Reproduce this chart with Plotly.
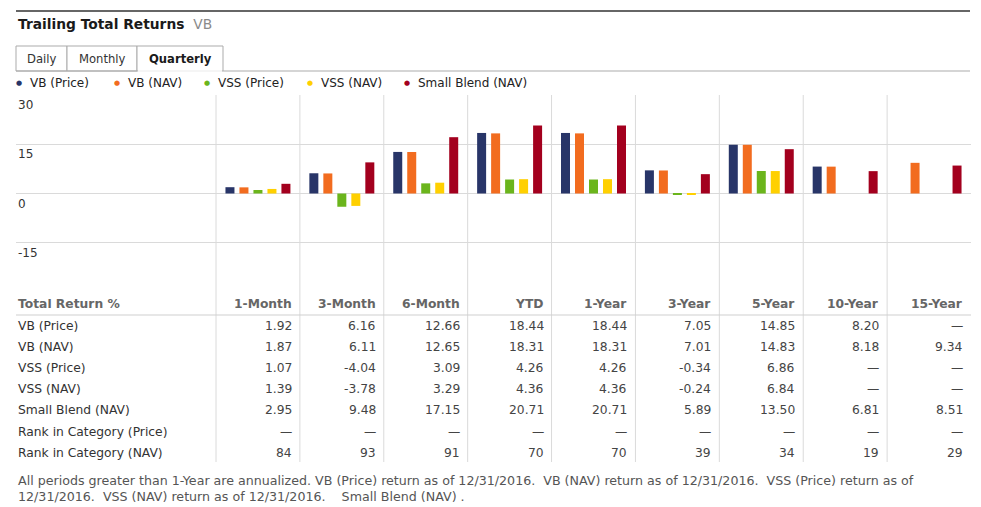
import plotly.graph_objects as go

# ---------------- data ----------------
periods = ["1-Month", "3-Month", "6-Month", "YTD", "1-Year", "3-Year", "5-Year", "10-Year", "15-Year"]
series_names = ["VB (Price)", "VB (NAV)", "VSS (Price)", "VSS (NAV)", "Small Blend (NAV)"]
vb_price = [1.92, 6.16, 12.66, 18.44, 18.44, 7.05, 14.85, 8.20, None]
vb_nav = [1.87, 6.11, 12.65, 18.31, 18.31, 7.01, 14.83, 8.18, 9.34]
vss_price = [1.07, -4.04, 3.09, 4.26, 4.26, -0.34, 6.86, None, None]
vss_nav = [1.39, -3.78, 3.29, 4.36, 4.36, -0.24, 6.84, None, None]
small_blend = [2.95, 9.48, 17.15, 20.71, 20.71, 5.89, 13.50, 6.81, 8.51]
rank_price = [None] * 9
rank_nav = [84, 93, 91, 70, 70, 39, 34, 19, 29]
y_ticks = [-30, -15, 0, 15, 30]
y_tick_text = ["", "-15", "0", "15", "30"]
tabs = ["Daily", "Monthly", "Quarterly"]
footnote = ("All periods greater than 1-Year are annualized. VB (Price) return as of 12/31/2016.\u00a0 "
            "VB (NAV) return as of 12/31/2016.\u00a0 VSS (Price) return as of<br>12/31/2016.\u00a0 "
            "VSS (NAV) return as of 12/31/2016.\u00a0\u00a0\u00a0 Small Blend (NAV) .")

# ---------------- styling ----------------
W, H = 981, 507
colors = ["#283568", "#F26C1F", "#6BB51C", "#FFD000", "#A3001E"]
FONT = "DejaVu Sans"
GRID = "#DADADA"
TSIZE = 12.3

def px_x(p):
    return p / W

def px_y(p):
    return 1 - p / H

left_px, col0_px, right_px = 16, 216, 971
top_px, bottom_px = 95, 292
col_w = (right_px - col0_px) / len(periods)
x_min = -0.5 - (col0_px - left_px) / col_w
x_max = len(periods) - 0.5

series = [vb_price, vb_nav, vss_price, vss_nav, small_blend]
xs = list(range(len(periods)))

fig = go.Figure()
for name, vals, c in zip(series_names, series, colors):
    fig.add_trace(go.Bar(x=xs, y=vals, name=name, marker=dict(color=c, line=dict(width=0)),
                         showlegend=False, hoverinfo="skip"))

annotations = []
shapes = []

# title
annotations.append(dict(xref="paper", yref="paper", x=px_x(16), y=px_y(24), xanchor="left", yanchor="middle",
                        text="<b>Trailing Total Returns</b>  <span style='color:#8a8a8a;font-weight:normal'>VB</span>",
                        showarrow=False, font=dict(family=FONT, size=13.8, color="#1a1a1a")))
shapes.append(dict(type="line", xref="paper", yref="paper", x0=px_x(16), x1=px_x(970), y0=px_y(11), y1=px_y(11),
                   line=dict(color="#666666", width=2)))

# tabs
tab_edges = [16, 67, 137, 223]
for i, t in enumerate(tabs):
    x0, x1 = tab_edges[i], tab_edges[i + 1]
    shapes.append(dict(type="rect", xref="paper", yref="paper", x0=px_x(x0), x1=px_x(x1), y0=px_y(71), y1=px_y(46),
                       line=dict(color="#ABABAB", width=1), fillcolor="white"))
    active = (t == "Quarterly")
    annotations.append(dict(xref="paper", yref="paper", x=px_x((x0 + x1) / 2), y=px_y(59), xanchor="center",
                            yanchor="middle", text=f"<b>{t}</b>" if active else t, showarrow=False,
                            font=dict(family=FONT, size=11.6, color="#1a1a1a" if active else "#333333")))
shapes.append(dict(type="line", xref="paper", yref="paper", x0=px_x(223), x1=px_x(970), y0=px_y(71), y1=px_y(71),
                   line=dict(color="#ABABAB", width=1)))
shapes.append(dict(type="line", xref="paper", yref="paper", x0=px_x(16), x1=px_x(137), y0=px_y(71), y1=px_y(71),
                   line=dict(color="#ABABAB", width=1)))
shapes.append(dict(type="line", xref="paper", yref="paper", x0=px_x(138), x1=px_x(222), y0=px_y(71), y1=px_y(71),
                   line=dict(color="white", width=1.5)))

# custom legend
legend_x = [19, 117, 207, 310, 407]
for name, c, lx in zip(series_names, colors, legend_x):
    annotations.append(dict(xref="paper", yref="paper", x=px_x(lx), y=px_y(83), xanchor="center", yanchor="middle",
                            text="●", showarrow=False, font=dict(family=FONT, size=7, color=c)))
    annotations.append(dict(xref="paper", yref="paper", x=px_x(lx + 9), y=px_y(83), xanchor="left", yanchor="middle",
                            text=name, showarrow=False, font=dict(family=FONT, size=12, color="#222222")))

# y tick labels (drawn at the far left, just below each grid line)
for v, t in zip(y_ticks, y_tick_text):
    if t:
        annotations.append(dict(xref="paper", yref="y", x=px_x(16), y=v, yshift=-10, xanchor="left",
                                yanchor="middle", text=t, showarrow=False,
                                font=dict(family=FONT, size=12, color="#333333")))

# vertical column lines (chart + table)
for i in range(len(periods)):
    shapes.append(dict(type="line", xref="x", yref="paper", x0=i - 0.5, x1=i - 0.5, y0=px_y(top_px), y1=px_y(462),
                       line=dict(color=GRID, width=1), layer="below"))

# table header
hdr_y = 304
annotations.append(dict(xref="paper", yref="paper", x=px_x(16), y=px_y(hdr_y), xanchor="left", yanchor="middle",
                        text="<b>Total Return %</b>", showarrow=False,
                        font=dict(family=FONT, size=TSIZE, color="#666666")))
for i, p in enumerate(periods):
    annotations.append(dict(xref="x", yref="paper", x=i + 0.5, xshift=-6, y=px_y(hdr_y), xanchor="right",
                            yanchor="middle", text=f"<b>{p}</b>", showarrow=False,
                            font=dict(family=FONT, size=TSIZE, color="#666666")))
shapes.append(dict(type="line", xref="paper", yref="paper", x0=px_x(16), x1=px_x(971), y0=px_y(315), y1=px_y(315),
                   line=dict(color="#CFCFCF", width=1)))

# table rows
row_labels = series_names + ["Rank in Category (Price)", "Rank in Category (NAV)"]

def fmt_val(v):
    return "—" if v is None else f"{v:.2f}"

def fmt_rank(v):
    return "—" if v is None else str(v)

rows = [[fmt_val(v) for v in s] for s in series] + [[fmt_rank(v) for v in rank_price],
                                                    [fmt_rank(v) for v in rank_nav]]
row_y0, row_dy = 326, 21.1
for r, (lab, cells) in enumerate(zip(row_labels, rows)):
    yy = px_y(row_y0 + r * row_dy)
    annotations.append(dict(xref="paper", yref="paper", x=px_x(16), y=yy, xanchor="left", yanchor="middle",
                            text=lab, showarrow=False, font=dict(family=FONT, size=TSIZE, color="#333333")))
    for i, cell in enumerate(cells):
        annotations.append(dict(xref="x", yref="paper", x=i + 0.5, xshift=-6, y=yy, xanchor="right",
                                yanchor="middle", text=cell, showarrow=False,
                                font=dict(family=FONT, size=TSIZE, color="#444444")))

# footnote
annotations.append(dict(xref="paper", yref="paper", x=px_x(16), y=px_y(488.5), xanchor="left", yanchor="middle",
                        text=footnote, showarrow=False, align="left",
                        font=dict(family=FONT, size=12.65, color="#555555")))

fig.update_layout(
    width=W, height=H,
    margin=dict(l=0, r=0, t=0, b=0),
    paper_bgcolor="white", plot_bgcolor="white",
    barmode="group", bargap=0.166, bargroupgap=0.357,
    xaxis=dict(domain=[px_x(left_px), px_x(right_px)], range=[x_min, x_max], showgrid=False,
               showticklabels=False, zeroline=False, showline=False, fixedrange=True),
    yaxis=dict(domain=[px_y(bottom_px), px_y(top_px)], range=[-30, 30], tickvals=y_ticks,
               showticklabels=False, ticks="",
               showgrid=True, gridcolor=GRID, gridwidth=1, zeroline=False, showline=False, fixedrange=True),
    shapes=shapes, annotations=annotations,
    showlegend=False,
)

fig.write_html("out.html", config={"displayModeBar": False},
               post_script="document.body.style.margin='0';document.body.style.padding='0';")
